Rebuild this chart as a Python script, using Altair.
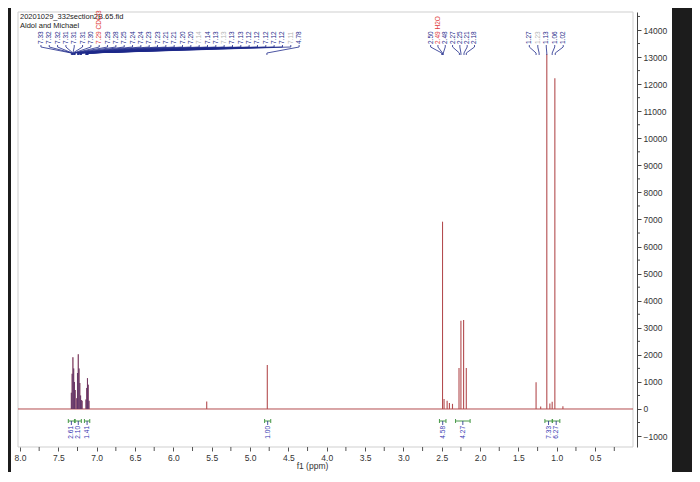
import altair as alt
import pandas as pd
import numpy as np

# ---------------- data ----------------
title_lines = ["20201029_332section2B.65.fid", "Aldol and Michael"]

peak_ppm = [7.33, 7.32, 7.31, 7.30, 7.29, 7.28, 7.26, 7.25, 7.24, 7.23, 7.22, 7.21, 7.20, 7.19,
            7.14, 7.13, 7.12, 7.11, 7.10,
            5.565, 4.775,
            2.49, 2.47, 2.43, 2.40, 2.36, 2.275, 2.25, 2.215, 2.18,
            1.27, 1.21, 1.13, 1.09, 1.06, 1.025, 0.92]
peak_int = [600, 1300, 1910, 1500, 1000, 700, 400, 1330, 2020, 1500, 960, 500, 330, 300,
            350, 780, 1140, 900, 300,
            280, 1625,
            6920, 370, 300, 220, 190, 1510, 3260, 3290, 1510,
            990, 90, 13100, 200, 270, 12215, 100]

# peak labels (text, kind: n=normal, s=solvent, w=weak)
labels_a = ["7.33", "7.32", "7.32", "7.31", "7.31", "7.31", "7.30", "7.29 CDCl3", "7.29", "7.28",
            "7.25", "7.24", "7.24", "7.23", "7.23", "7.21", "7.21", "7.20", "7.20", "7.14",
            "7.14", "7.13", "7.13", "7.13", "7.13", "7.12", "7.12", "7.12", "7.12", "7.12",
            "7.11", "4.78"]
kinds_a = ["n"] * 7 + ["s"] + ["n"] * 11 + ["w"] + ["n", "n", "w"] + ["n"] * 7 + ["w", "n"]
labels_b = ["2.50", "2.49 H2O", "2.48", "2.27", "2.25", "2.21", "2.18"]
kinds_b = ["n", "s", "n", "n", "n", "n", "n"]
labels_c = ["1.27", "1.23", "1.13", "1.06", "1.02"]
kinds_c = ["n", "w", "n", "n", "n"]

# integrals
int_vals = ["2.61", "2.10", "1.41", "1.00", "4.58", "4.27", "7.33", "6.27"]
int_from = [7.37, 7.28, 7.16, 4.81, 2.53, 2.32, 1.155, 1.055]
int_to = [7.29, 7.20, 7.09, 4.73, 2.445, 2.13, 1.06, 0.96]

y_ticks = [-1000, 0, 1000, 2000, 3000, 4000, 5000, 6000, 7000, 8000, 9000, 10000, 11000, 12000,
           13000, 14000]
y_minor = [-500, 500, 1500, 2500, 3500, 4500, 5500, 6500, 7500, 8500, 9500, 10500, 11500, 12500,
           13500, 14500]
x_ticks = [0.5, 1.0, 1.5, 2.0, 2.5, 3.0, 3.5, 4.0, 4.5, 5.0, 5.5, 6.0, 6.5, 7.0, 7.5, 8.0]
x_minor = [0.25, 0.75, 1.25, 1.75, 2.25, 2.75, 3.25, 3.75, 4.25, 4.75, 5.25, 5.75, 6.25, 6.75, 7.25, 7.75]

# ---------------- layout constants ----------------
W, H = 615, 435
X_DOMAIN = [0.006, 8.026]
Y_DOMAIN = [-1404, 14665]
SPAN_A = (7.727, 4.36)
SPAN_B = (2.645, 2.073)
SPAN_C = (1.358, 0.916)

FONT = "Liberation Sans"
NAVY = "#1e2a8a"
SPEC = "#b34c4f"

peaks = pd.DataFrame({"ppm": peak_ppm, "intensity": peak_int})

rows = []
for texts, kinds, span in [(labels_a, kinds_a, SPAN_A), (labels_b, kinds_b, SPAN_B), (labels_c, kinds_c, SPAN_C)]:
    pos = np.linspace(span[0], span[1], len(texts))
    for t, k, p in zip(texts, kinds, pos):
        rows.append({"text": t, "kind": k, "lx": float(p), "target": float(t.split()[0])})
plabels = pd.DataFrame(rows)

integ = pd.DataFrame({"val": int_vals, "a": int_from, "b": int_to})
integ["mid"] = (integ["a"] + integ["b"]) / 2

xs = alt.Scale(domain=X_DOMAIN, reverse=True, nice=False, zero=False)
ys = alt.Scale(domain=Y_DOMAIN, nice=False, zero=False)

x_axis = alt.Axis(values=x_ticks, format=".1f", labelOverlap=False, labelFlush=False, domain=False,
                  grid=False, tickSize=4, tickColor="#555", labelFont=FONT, labelFontSize=8.5,
                  labelColor="#333", labelPadding=2,
                  title="f1 (ppm)", titleFont=FONT, titleFontSize=8.5, titleFontWeight="normal",
                  titleColor="#333", titlePadding=0, titleX=294, zindex=2)
y_axis = alt.Axis(orient="right", offset=4, values=y_ticks, format="d", labelOverlap=False,
                  labelFlush=False, labelBound=False,
                  grid=False, tickSize=4, tickColor="#444",
                  domainColor="#444", labelFont=FONT, labelFontSize=8.5, labelColor="#333",
                  labelPadding=2, title=None, zindex=2)


def X(field):
    return alt.X(field, type="quantitative", scale=xs, axis=x_axis)


def Y(field):
    return alt.Y(field, type="quantitative", scale=ys, axis=y_axis)


one = pd.DataFrame({"k": [0]})

bg = alt.Chart(one).mark_rect(color="white").encode(
    x=alt.value(-7), x2=alt.value(654), y=alt.value(-4), y2=alt.value(470))

frame = alt.Chart(one).mark_rect(filled=False, stroke="#cfcfcf", strokeWidth=1).encode(
    x=alt.value(0), x2=alt.value(W), y=alt.value(0), y2=alt.value(H))

spec = alt.Chart(peaks).mark_rule(color=SPEC, strokeWidth=1.1, clip=True).encode(
    x=X("ppm"), y=Y("intensity"), y2=alt.datum(0))

baseline = alt.Chart(pd.DataFrame({"z": [0]})).mark_rule(color=SPEC, strokeWidth=1).encode(
    y=Y("z"))

arom = alt.Chart(peaks).transform_filter(alt.datum.ppm > 7).mark_rule(
    color="#2a2a80", strokeWidth=0.8, opacity=0.6, clip=True).encode(
    x=X("ppm"), y=Y("intensity"), y2=alt.datum(0))

yminor = alt.Chart(pd.DataFrame({"v": y_minor})).mark_rule(color="#444", strokeWidth=1).encode(
    y=Y("v"), x=alt.value(W + 4), x2=alt.value(W + 7))
xminor = alt.Chart(pd.DataFrame({"v": x_minor})).mark_rule(color="#555", strokeWidth=1).encode(
    x=X("v"), y=alt.value(H), y2=alt.value(H + 4))

t1 = alt.Chart(pd.DataFrame({"t": [title_lines[0]]})).mark_text(
    align="left", baseline="top", font=FONT, fontSize=7.5, color="#222").encode(
    text="t:N", x=alt.value(2), y=alt.value(1))
t2 = alt.Chart(pd.DataFrame({"t": [title_lines[1]]})).mark_text(
    align="left", baseline="top", font=FONT, fontSize=7.5, color="#222").encode(
    text="t:N", x=alt.value(2), y=alt.value(10))

lab_color = alt.Color("kind:N", scale=alt.Scale(domain=["n", "s", "w"], range=[NAVY, "#e03a3a", "#b5b5b5"]),
                      legend=None)
ptext = alt.Chart(plabels).mark_text(angle=270, align="left", baseline="middle", font=FONT,
                                     fontSize=6.5).encode(
    x=X("lx"), y=alt.value(32), text="text:N", color=lab_color)

c1 = alt.Chart(plabels).mark_rule(color=NAVY, strokeWidth=0.8).encode(
    x=X("lx"), y=alt.value(33), y2=alt.value(35))
c2 = alt.Chart(plabels).mark_rule(color=NAVY, strokeWidth=0.8).encode(
    x=X("lx"), x2="target:Q", y=alt.value(35), y2=alt.value(41))
c3 = alt.Chart(plabels).mark_rule(color=NAVY, strokeWidth=0.8).encode(
    x=X("target"), y=alt.value(41), y2=alt.value(43))

GREEN = "#4a9a4a"
ib = alt.Chart(integ).mark_rule(color=GREEN, strokeWidth=1).encode(
    x=X("a"), x2="b:Q", y=alt.value(409))
ia = alt.Chart(integ).mark_rule(color=GREEN, strokeWidth=1).encode(
    x=X("a"), y=alt.value(407), y2=alt.value(411))
ie = alt.Chart(integ).mark_rule(color=GREEN, strokeWidth=1).encode(
    x=X("b"), y=alt.value(407), y2=alt.value(411))
im = alt.Chart(integ).mark_rule(color=NAVY, strokeWidth=0.8).encode(
    x=X("mid"), y=alt.value(409), y2=alt.value(413))
it = alt.Chart(integ).mark_text(angle=270, align="right", baseline="middle", font=FONT,
                                fontSize=6.5, color="#3434b0").encode(
    x=X("mid"), y=alt.value(414), text="val:N")

chart = alt.layer(bg, frame, spec, baseline, arom, yminor, xminor, t1, t2, ptext, c1, c2, c3,
                  ib, ia, ie, im, it).properties(
    width=W, height=H,
    autosize=alt.AutoSizeParams(type="none"),
    padding={"left": 10, "top": 4, "right": 59, "bottom": 25},
    background="#1c1c1c",
).configure_view(stroke=None).configure_axis(labelOverlap=False)

chart.save("out.html", embed_options={"renderer": "svg", "actions": False})
